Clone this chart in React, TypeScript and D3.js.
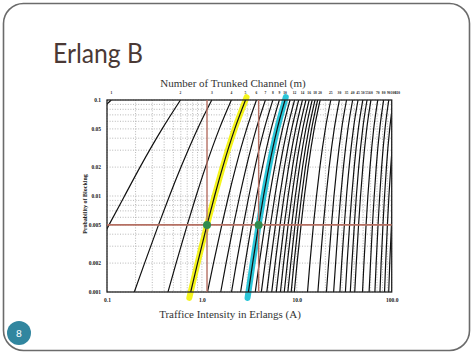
import React, { useEffect, useRef } from 'react';
import * as d3 from 'd3';

// blocking probability levels the curves were read at
const blockingLevels = [0.001, 0.002, 0.005, 0.01, 0.02, 0.05, 0.1];

// number of trunked channels, one curve each
const channels = [
  1, 2, 3, 4, 5, 6, 7, 8, 9, 10, 11, 12, 13, 14, 15, 16, 17, 18, 19, 20,
  25, 30, 35, 40, 45, 50, 55, 60, 70, 80, 90, 100, 110, 120,
];

// traffic (Erlangs) where each curve crosses a blocking level
const trafficB001 = [0.001, 0.046, 0.194, 0.439, 0.762, 1.146, 1.579, 2.051, 2.558, 3.092, 3.651, 4.231, 4.831, 5.446, 6.077, 6.721, 7.378, 8.046, 8.724, 9.411, 12.97, 16.68, 20.53, 24.44, 28.45, 32.51, 36.62, 40.79, 49.24, 57.8, 66.5, 75.2, 84.1, 93.0];
const trafficB002 = [0.002, 0.065, 0.249, 0.535, 0.9, 1.325, 1.798, 2.311, 2.855, 3.427, 4.022, 4.637, 5.27, 5.919, 6.582, 7.258, 7.946, 8.644, 9.351, 10.07, 13.74, 17.61, 21.6, 25.65, 29.7, 33.88, 38.1, 42.35, 51.0, 59.8, 68.6, 77.4, 86.4, 95.4];
const trafficB005 = [0.005, 0.105, 0.349, 0.701, 1.132, 1.622, 2.157, 2.73, 3.333, 3.961, 4.61, 5.279, 5.964, 6.663, 7.376, 8.1, 8.834, 9.578, 10.33, 11.09, 14.97, 19.03, 23.2, 27.38, 31.7, 36.0, 40.4, 44.76, 53.7, 62.7, 71.8, 80.9, 90.1, 99.4];
const trafficB01 = [0.0101, 0.153, 0.455, 0.869, 1.361, 1.909, 2.501, 3.128, 3.783, 4.461, 5.16, 5.876, 6.607, 7.352, 8.108, 8.875, 9.652, 10.44, 11.23, 12.03, 16.13, 20.34, 24.64, 29.0, 33.4, 37.9, 42.4, 46.95, 56.1, 65.4, 74.7, 84.06, 93.5, 103.0];
const trafficB02 = [0.0204, 0.223, 0.602, 1.092, 1.657, 2.276, 2.935, 3.627, 4.345, 5.084, 5.842, 6.615, 7.402, 8.2, 9.01, 9.828, 10.66, 11.49, 12.33, 13.18, 17.51, 21.93, 26.43, 31.0, 35.6, 40.26, 44.9, 49.64, 59.1, 68.7, 78.3, 87.97, 97.7, 107.4];
const trafficB05 = [0.0526, 0.381, 0.899, 1.525, 2.219, 2.96, 3.738, 4.543, 5.37, 6.216, 7.076, 7.95, 8.835, 9.73, 10.63, 11.54, 12.46, 13.39, 14.32, 15.25, 19.99, 24.8, 29.68, 34.6, 39.5, 44.53, 49.5, 54.57, 64.6, 74.8, 85.0, 95.24, 105.5, 115.8];
const trafficB1 = [0.111, 0.595, 1.271, 2.045, 2.881, 3.758, 4.666, 5.597, 6.546, 7.511, 8.487, 9.474, 10.47, 11.47, 12.48, 13.5, 14.52, 15.55, 16.58, 17.61, 22.83, 28.11, 33.43, 38.79, 44.17, 49.56, 54.97, 60.4, 71.29, 82.24, 93.2, 104.1, 115.1, 126.1];

const trafficByLevel = [trafficB001, trafficB002, trafficB005, trafficB01, trafficB02, trafficB05, trafficB1];

// labels on the top ruler
const rulerLabels = [1, 2, 3, 4, 5, 6, 7, 8, 9, 10, 12, 14, 16, 18, 20, 25, 30, 35, 40, 45, 50, 55, 60, 70, 80, 90, 100, 110];

const yTickValues = [0.1, 0.05, 0.02, 0.01, 0.005, 0.002, 0.001];
const yTickLabels = ['0.1', '0.05', '0.02', '0.01', '0.005', '0.002', '0.001'];
const xTickValues = [0.1, 1, 10, 100];
const xTickLabels = ['0.1', '1.0', '10.0', '100.0'];

// worked example: 0.5% blocking for 5 and 10 channels
const targetBlocking = 0.005;
const highlighted = [
  { m: 5, color: '#f4f41c' },
  { m: 10, color: '#2bc6d8' },
];

const ErlangChart = () => {
  const svgRef = useRef<SVGSVGElement>(null);

  useEffect(() => {
    const width = 474;
    const height = 355;
    const plot = { left: 107, right: 391.7, top: 100, bottom: 292 };

    const svg = d3.select(svgRef.current)
      .attr('width', width)
      .attr('height', height)
      .style('background', '#ffffff');
    svg.selectAll('*').remove();

    // slide frame
    svg.append('rect')
      .attr('x', 3.5).attr('y', 3.5)
      .attr('width', 466).attr('height', 347)
      .attr('rx', 20)
      .attr('fill', '#fff')
      .attr('stroke', '#6b6b6b')
      .attr('stroke-width', 1.6);

    svg.append('text')
      .attr('x', 53).attr('y', 63)
      .attr('font-family', 'Lato, sans-serif')
      .attr('font-size', 27)
      .attr('textLength', 90)
      .attr('lengthAdjust', 'spacingAndGlyphs')
      .attr('fill', '#4a3935')
      .text('Erlang B');

    svg.append('circle')
      .attr('cx', 19).attr('cy', 333).attr('r', 12)
      .attr('fill', '#31869f');
    svg.append('text')
      .attr('x', 19).attr('y', 336.5)
      .attr('text-anchor', 'middle')
      .attr('font-family', 'Lato, sans-serif')
      .attr('font-size', 10)
      .attr('fill', '#ffffff')
      .text('8');

    const xScale = d3.scaleLog().domain([0.1, 100]).range([plot.left, plot.right]);
    const yScale = d3.scaleLog().domain([0.001, 0.1]).range([plot.bottom, plot.top]);

    svg.append('defs').append('clipPath')
      .attr('id', 'plot-clip')
      .append('rect')
      .attr('x', plot.left).attr('y', plot.top)
      .attr('width', plot.right - plot.left)
      .attr('height', plot.bottom - plot.top);

    // dotted log grid
    const grid = svg.append('g')
      .attr('stroke', '#999')
      .attr('stroke-width', 0.7)
      .attr('stroke-dasharray', '1,1.6');
    grid.selectAll('.vgrid')
      .data(xScale.ticks())
      .enter().append('line')
      .attr('x1', d => xScale(d)).attr('x2', d => xScale(d))
      .attr('y1', plot.top).attr('y2', plot.bottom);
    grid.selectAll('.hgrid')
      .data(yScale.ticks())
      .enter().append('line')
      .attr('x1', plot.left).attr('x2', plot.right)
      .attr('y1', d => yScale(d)).attr('y2', d => yScale(d));

    const curvePoints = (i: number) =>
      blockingLevels.map((b, k) => [trafficByLevel[k][i], b] as [number, number]);

    const lineGenerator = d3.line<[number, number]>()
      .x(d => xScale(d[0]))
      .y(d => yScale(d[1]))
      .curve(d3.curveMonotoneX);

    // highlight strokes, extended a little past both ends
    highlighted.forEach(h => {
      const i = channels.indexOf(h.m);
      const pts = curvePoints(i).map(d => [xScale(d[0]), yScale(d[1])] as [number, number]);
      const extend = (a: [number, number], b: [number, number], len: number) => {
        const dx = a[0] - b[0];
        const dy = a[1] - b[1];
        const l = Math.hypot(dx, dy);
        return [a[0] + dx / l * len, a[1] + dy / l * len] as [number, number];
      };
      const full = [extend(pts[0], pts[1], 6), ...pts, extend(pts[pts.length - 1], pts[pts.length - 2], 3)];
      svg.append('path')
        .datum(full)
        .attr('fill', 'none')
        .attr('stroke', h.color)
        .attr('stroke-width', 6)
        .attr('stroke-linecap', 'round')
        .attr('d', d3.line().curve(d3.curveMonotoneX));
    });

    // Erlang B curves
    svg.append('g')
      .attr('clip-path', 'url(#plot-clip)')
      .selectAll('path')
      .data(channels.map((m, i) => curvePoints(i)))
      .enter().append('path')
      .attr('fill', 'none')
      .attr('stroke', '#111')
      .attr('stroke-width', 1.2)
      .attr('d', lineGenerator);

    // plot frame
    svg.append('rect')
      .attr('x', plot.left).attr('y', plot.top)
      .attr('width', plot.right - plot.left)
      .attr('height', plot.bottom - plot.top)
      .attr('fill', 'none')
      .attr('stroke', '#222')
      .attr('stroke-width', 1.3);

    // red guide lines and operating points
    const red = '#b56f62';
    const b005 = trafficByLevel[blockingLevels.indexOf(targetBlocking)];
    svg.append('line')
      .attr('x1', plot.left).attr('x2', plot.right)
      .attr('y1', yScale(targetBlocking)).attr('y2', yScale(targetBlocking))
      .attr('stroke', red).attr('stroke-width', 1.6);
    highlighted.forEach(h => {
      const a = b005[channels.indexOf(h.m)];
      svg.append('line')
        .attr('x1', xScale(a)).attr('x2', xScale(a))
        .attr('y1', plot.top).attr('y2', plot.bottom)
        .attr('stroke', red).attr('stroke-width', 1.4);
    });
    highlighted.forEach(h => {
      const a = b005[channels.indexOf(h.m)];
      svg.append('circle')
        .attr('cx', xScale(a)).attr('cy', yScale(targetBlocking))
        .attr('r', 4)
        .attr('fill', '#2f8a4e');
    });

    // top ruler of channel counts
    const b1 = trafficByLevel[blockingLevels.indexOf(0.1)];
    svg.append('g')
      .selectAll('text')
      .data(rulerLabels)
      .enter().append('text')
      .attr('x', d => xScale(b1[channels.indexOf(d)]))
      .attr('y', 93.5)
      .attr('text-anchor', 'middle')
      .attr('font-family', 'Liberation Serif, serif')
      .attr('font-weight', 'bold')
      .attr('font-size', 3.6)
      .attr('fill', '#222')
      .text(d => d);

    // axes
    const yAxis = d3.axisLeft(yScale)
      .tickValues(yTickValues)
      .tickFormat((d, i) => yTickLabels[i])
      .tickSize(0)
      .tickPadding(6);
    const gy = svg.append('g')
      .attr('transform', `translate(${plot.left}, 0)`)
      .call(yAxis);
    gy.select('.domain').remove();
    gy.selectAll('text')
      .attr('font-family', 'Liberation Serif, serif')
      .attr('font-weight', 'bold')
      .attr('font-size', 5.5)
      .attr('fill', '#222');

    const xAxis = d3.axisBottom(xScale)
      .tickValues(xTickValues)
      .tickFormat((d, i) => xTickLabels[i])
      .tickSize(0)
      .tickPadding(6);
    const gx = svg.append('g')
      .attr('transform', `translate(0, ${plot.bottom})`)
      .call(xAxis);
    gx.select('.domain').remove();
    gx.selectAll('text')
      .attr('font-family', 'Liberation Serif, serif')
      .attr('font-weight', 'bold')
      .attr('font-size', 5.5)
      .attr('fill', '#222');

    // titles
    svg.append('text')
      .attr('x', 233).attr('y', 87)
      .attr('text-anchor', 'middle')
      .attr('font-family', 'Liberation Serif, serif')
      .attr('font-size', 11)
      .attr('fill', '#333')
      .text('Number of Trunked Channel (m)');

    svg.append('text')
      .attr('x', 230).attr('y', 318)
      .attr('text-anchor', 'middle')
      .attr('font-family', 'Liberation Serif, serif')
      .attr('font-size', 11)
      .attr('fill', '#333')
      .text('Traffice Intensity in Erlangs (A)');

    svg.append('text')
      .attr('transform', 'translate(87, 204) rotate(-90)')
      .attr('text-anchor', 'middle')
      .attr('font-family', 'Liberation Serif, serif')
      .attr('font-weight', 'bold')
      .attr('font-size', 6)
      .attr('fill', '#222')
      .text('Probability of Blocking');
  }, []);

  return (
    <svg ref={svgRef} style={{ position: 'absolute', left: 0, top: 0 }}></svg>
  );
};

export default function App() {
  return <ErlangChart />;
}
